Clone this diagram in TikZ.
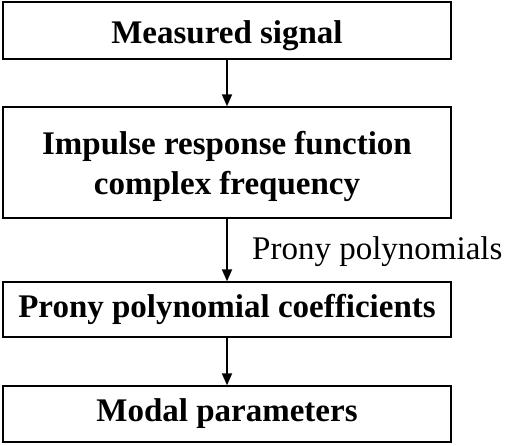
\documentclass[tikz,border=0pt]{standalone}
\usepackage{fontspec}
\setmainfont{Liberation Serif}
\usetikzlibrary{arrows.meta}

\tikzstyle{block} = [draw,thick,line width=1.4pt,minimum width=448pt,inner sep=0pt,align=center,font=\fontsize{33}{40}\selectfont\bfseries]
\tikzstyle{arrow} = [line width=1.8pt,-{Triangle[length=12pt,width=10pt]}]

\begin{document}
\begin{tikzpicture}[x=1pt,y=-1pt]
\useasboundingbox (0,0) rectangle (505,446);

% Boxes
\node [block,minimum height=57pt,text height=25.6pt,text depth=0pt] (signal) at (227,30.5) {Measured signal};
\node [block,minimum height=111pt,text height=72pt] (irf) at (227,162.5) {Impulse response function\\complex frequency};
\node [block,minimum height=55pt] (coeff) at (227,309.5) {Prony polynomial coefficients};
\node [block,minimum height=56pt] (modal) at (227,414) {Modal parameters};

% Arrows
\draw [arrow] (signal) -- (irf);
\draw [arrow] (irf) -- (coeff);
\draw [arrow] (coeff) -- (modal);

% Label on the arrow
\node [anchor=base west,inner sep=0pt,font=\fontsize{33}{40}\selectfont] (prony) at (252,259) {Prony polynomials};

\end{tikzpicture}
\end{document}
